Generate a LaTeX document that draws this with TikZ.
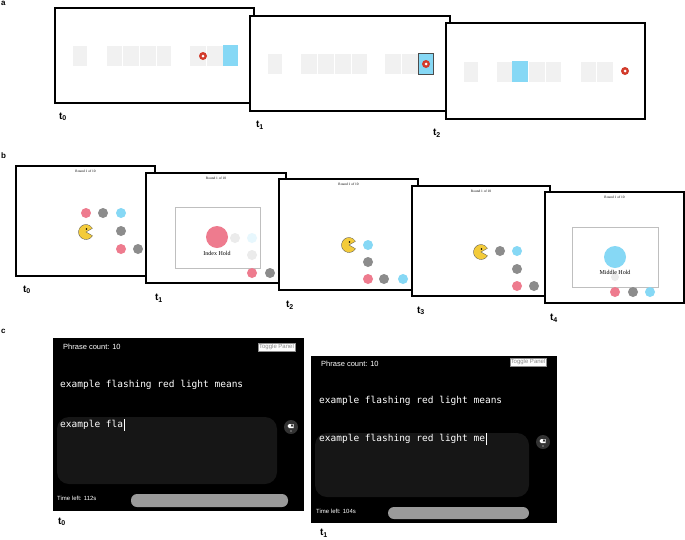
\documentclass[tikz,border=0pt]{standalone}
\usepackage{fontspec}
\setmainfont{Liberation Sans}
\newfontfamily\monofnt{DejaVu Sans Mono}
\newfontfamily\serifnt{Liberation Serif}
\definecolor{pk}{HTML}{EE7B8E}
\definecolor{gr}{HTML}{8C8C8C}
\definecolor{bl}{HTML}{86D8F5}
\definecolor{yl}{HTML}{F3CB3A}
\definecolor{rd}{HTML}{D23B2B}
\definecolor{sq}{HTML}{F1F1F1}
\definecolor{inbox}{HTML}{161616}
\definecolor{bar}{HTML}{9A9A9A}
\tikzset{
  frame/.style={draw=black,line width=2.6pt,fill=white},
  tile/.style={fill=sq,draw=white,line width=0.8pt},
  tlab/.style={font=\bfseries\fontsize{10}{10}\selectfont,inner sep=0pt},
  plab/.style={font=\bfseries\fontsize{8}{8}\selectfont,inner sep=0pt},
  rnd/.style={font=\serifnt\fontsize{3.5}{4}\selectfont,inner sep=0pt},
  hold/.style={font=\serifnt\fontsize{6}{6}\selectfont,inner sep=0pt},
  small/.style={font=\fontsize{7.5}{8}\selectfont,text=white,inner sep=0pt,anchor=west},
  mono/.style={font=\monofnt\fontsize{9.5}{10}\selectfont,text=white,inner sep=0pt,anchor=west},
  tog/.style={font=\fontsize{6}{6}\selectfont,text=gr,fill=white,draw=gr,inner sep=1pt,line width=0.3pt},
}
\newcommand{\dotc}[3]{\fill[#1] (#2,#3) circle (5);}
\newcommand{\pacm}[2]{\filldraw[fill=yl,draw=black!70,line width=0.3pt] (#1,#2) -- ++(30:7.5) arc (30:330:7.5) -- cycle; \fill[black] ($(#1,#2)+(0.5,-3)$) circle (0.9);}
\newcommand{\target}[2]{\fill[rd] (#1,#2) circle (4); \fill[white] (#1,#2) circle (1.5);}
\newcommand{\bksp}[2]{\fill[black!80] (#1,#2) circle (7);
  \fill[white] ($(#1,#2)+(-3.5,-1)$) -- ++(1.5,-2) -- ++(4.5,0) -- ++(0,4) -- ++(-4.5,0) -- cycle;
  \draw[black,line width=0.4pt] ($(#1,#2)+(0,-2.5)$) -- ++(2,2) ($(#1,#2)+(2,-2.5)$) -- ++(-2,2);
  \fill[white] ($(#1,#2)+(0,4)$) circle (0.7);}
\usetikzlibrary{calc}
\begin{document}
\begin{tikzpicture}[x=1pt,y=-1pt]
\useasboundingbox (0,0) rectangle (685,539);
% ---------------- panel a
\node[plab,anchor=north west] (la) at (1,1) {a};
\draw[frame] (55,8) rectangle (254,103);
\foreach \a/\b in {72/87,106/122,122/139,139/156,156/171,189/206,206/223}{\draw[tile] (\a,45) rectangle (\b,66);}
\fill[bl] (223,45) rectangle (238,66);
\target{203}{56}
\draw[frame] (250,16) rectangle (450,111);
\foreach \a/\b in {267/282,300/317,317/334,334/351,351/367,384/401,401/418}{\draw[tile] (\a,53) rectangle (\b,74);}
\filldraw[fill=bl,draw=black!70,line width=0.5pt] (418,53) rectangle (433,74);
\target{426}{64}
\draw[frame] (446,23) rectangle (645,119);
\foreach \a/\b in {463/478,496/512,528/545,545/561,580/596,596/613}{\draw[tile] (\a,61) rectangle (\b,82);}
\fill[bl] (512,61) rectangle (528,82);
\target{625}{71}
\node[tlab] (a0) at (63,117) {t\textsubscript{0}};
\node[tlab] (a1) at (260,125) {t\textsubscript{1}};
\node[tlab] (a2) at (437,133) {t\textsubscript{2}};
% ---------------- panel b
\node[plab,anchor=north west] (lb) at (1,152) {b};
\draw[frame] (16,166) rectangle (155,276);
\node[rnd] (r0) at (85.5,171) {Round 1 of 10};
\dotc{pk}{86}{213}\dotc{gr}{103}{213}\dotc{bl}{121}{213}
\pacm{86}{232}
\dotc{gr}{121}{231}\dotc{pk}{121}{249}\dotc{gr}{138}{249}
\draw[frame] (146,173) rectangle (286,283);
\node[rnd] (r1) at (216,178) {Round 1 of 10};
\draw[black!25,line width=0.6pt] (175,207) rectangle (260,268);
\fill[pk] (217,237) circle (11);
\node[hold] (h1) at (217,253) {Index Hold};
\fill[black!8] (235,238) circle (5);
\fill[bl!20] (252,238) circle (5);
\fill[black!8] (252,255) circle (5);
\dotc{pk}{252}{273}\dotc{gr}{270}{273}
\draw[frame] (279,179) rectangle (418,290);
\node[rnd] (r2) at (348.5,184) {Round 1 of 10};
\pacm{349}{245}
\dotc{bl}{368}{245}\dotc{gr}{368}{262}\dotc{pk}{368}{279}\dotc{gr}{384}{279}\dotc{bl}{403}{279}
\draw[frame] (412,186) rectangle (550,296);
\node[rnd] (r3) at (481,191) {Round 1 of 10};
\pacm{481}{252}
\dotc{gr}{500}{251}\dotc{bl}{517}{251}\dotc{gr}{517}{269}\dotc{pk}{517}{286}\dotc{gr}{534}{286}
\draw[frame] (545,192) rectangle (684,303);
\node[rnd] (r4) at (614.5,197) {Round 1 of 10};
\draw[black!25,line width=0.6pt] (572,227) rectangle (658,287);
\fill[bl] (615,257) circle (11);
\fill[black!8] (615,277) circle (4);
\node[hold] (h4) at (615,272) {Middle Hold};
\dotc{pk}{615}{292}\dotc{gr}{633}{292}\dotc{bl}{650}{292}
\node[tlab] (b0) at (27,290) {t\textsubscript{0}};
\node[tlab] (b1) at (159,298) {t\textsubscript{1}};
\node[tlab] (b2) at (290,305) {t\textsubscript{2}};
\node[tlab] (b3) at (421,311) {t\textsubscript{3}};
\node[tlab] (b4) at (554,318) {t\textsubscript{4}};
% ---------------- panel c
\node[plab,anchor=north west] (lc) at (1,329) {c};
% screen 1
\fill[black] (53,338) rectangle (304,511);
\node[small] (p0) at (63,347) {Phrase count: 10};
\node[tog] (g0) at (276.5,347) {Toggle Panel};
\node[mono] (s0) at (60,385) {example flashing red light means};
\fill[inbox,rounded corners=12pt] (57,417) rectangle (277,484);
\node[mono] (i0) at (60,425) {example fla};
\draw[white,line width=0.5pt] ($(i0.east)+(1,-6)$) -- ++(0,12);
\bksp{291}{427}
\node[small,font=\fontsize{6}{6}\selectfont] (tl0) at (57,498) {Time left: 112s};
\fill[bar,rounded corners=6pt] (131,494) rectangle (288,507);
\node[tlab] (c0) at (62,522) {t\textsubscript{0}};
% screen 2
\fill[black] (311,356) rectangle (557,523);
\node[small] (p1) at (321,364) {Phrase count: 10};
\node[tog] (g1) at (528,362) {Toggle Panel};
\node[mono] (s1) at (319,401) {example flashing red light means};
\fill[inbox,rounded corners=12pt] (315,433) rectangle (529,497);
\node[mono] (i1) at (319,439) {example flashing red light me};
\draw[white,line width=0.5pt] ($(i1.east)+(1,-6)$) -- ++(0,12);
\bksp{543}{442}
\node[small,font=\fontsize{6}{6}\selectfont] (tl1) at (316,511) {Time left: 104s};
\fill[bar,rounded corners=6pt] (388,507) rectangle (529,519);
\node[tlab] (c1) at (324,533) {t\textsubscript{1}};
\end{tikzpicture}
\end{document}
